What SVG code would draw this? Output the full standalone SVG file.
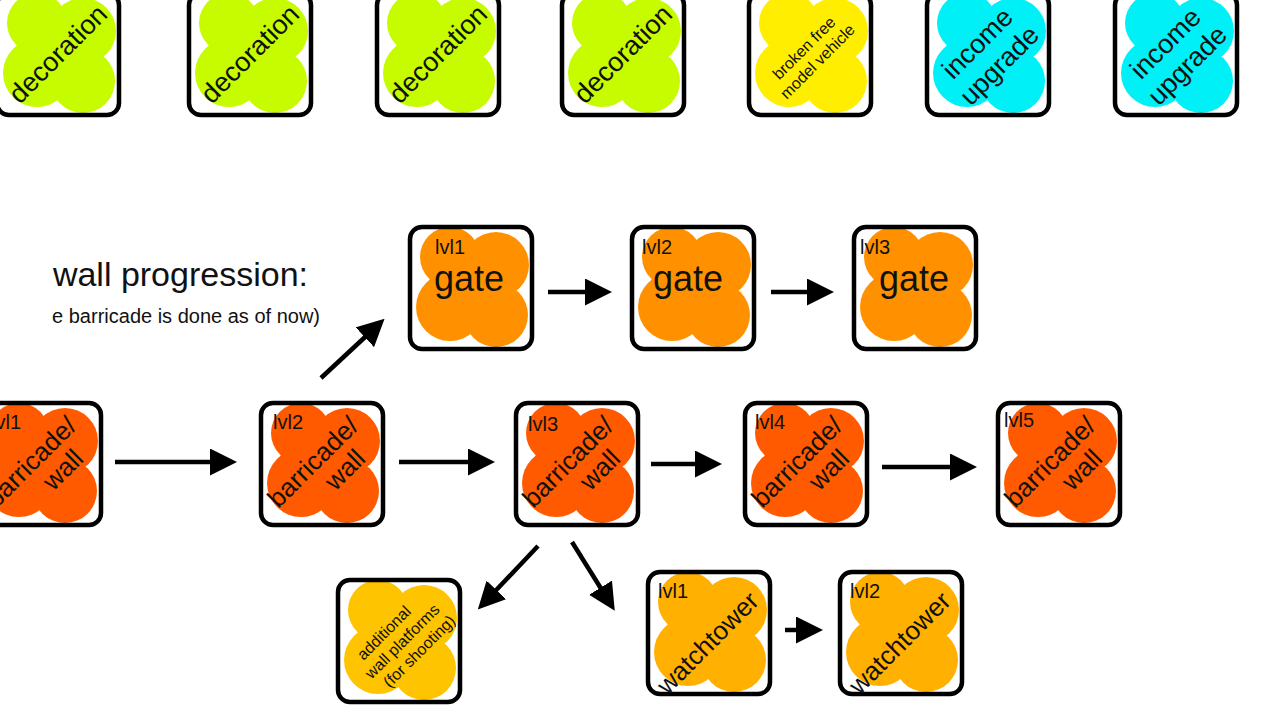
<svg xmlns="http://www.w3.org/2000/svg" width="1280" height="720" viewBox="0 0 1280 720">
<style>
.box{fill:none;stroke:#000;stroke-width:4.5}
.t{font-family:"Liberation Sans",Arial,sans-serif;fill:#111}
.lg{fill:#c6fb00}.yl{fill:#ffee00}.cy{fill:#00f0f8}.og{fill:#ff9100}.rd{fill:#ff5a00}.am{fill:#ffb000}.gd{fill:#ffc400}
.c line{stroke:#000;stroke-width:4.5}
</style>
<defs>
<clipPath id="cp" clipPathUnits="userSpaceOnUse"><rect x="2" y="2" width="122" height="122" rx="12"/></clipPath>
<g id="blob"><circle cx="42" cy="32" r="30"/><circle cx="88" cy="40" r="33"/><circle cx="42" cy="82" r="34"/><circle cx="88" cy="90" r="32"/><circle cx="63" cy="62" r="42"/></g>
<marker id="ah" markerWidth="6" markerHeight="6" refX="4" refY="3" orient="auto" markerUnits="strokeWidth"><path d="M0,0 L6,3 L0,6 z"/></marker>
</defs>
<rect width="1280" height="720" fill="#fff"/>
<g id="top">
<g id="d1" transform="translate(-5,-9)"><use href="#blob" class="lg" clip-path="url(#cp)"/><rect class="box" x="2" y="2" width="122" height="122" rx="12"/><text class="t" x="63" y="72" font-size="27" text-anchor="middle" transform="rotate(-45 63 63)">decoration</text></g>
<g id="d2" transform="translate(187,-9)"><use href="#blob" class="lg" clip-path="url(#cp)"/><rect class="box" x="2" y="2" width="122" height="122" rx="12"/><text class="t" x="63" y="72" font-size="27" text-anchor="middle" transform="rotate(-45 63 63)">decoration</text></g>
<g id="d3" transform="translate(375,-9)"><use href="#blob" class="lg" clip-path="url(#cp)"/><rect class="box" x="2" y="2" width="122" height="122" rx="12"/><text class="t" x="63" y="72" font-size="27" text-anchor="middle" transform="rotate(-45 63 63)">decoration</text></g>
<g id="d4" transform="translate(560,-9)"><use href="#blob" class="lg" clip-path="url(#cp)"/><rect class="box" x="2" y="2" width="122" height="122" rx="12"/><text class="t" x="63" y="72" font-size="27" text-anchor="middle" transform="rotate(-45 63 63)">decoration</text></g>
<g id="bfv" transform="translate(747,-9)"><use href="#blob" class="yl" clip-path="url(#cp)"/><rect class="box" x="2" y="2" width="122" height="122" rx="12"/><text class="t" font-size="16" text-anchor="middle" transform="rotate(-45 63 63)"><tspan x="63" y="60">broken free</tspan><tspan x="63" y="79">model vehicle</tspan></text></g>
<g id="inc1" transform="translate(925,-9)"><use href="#blob" class="cy" clip-path="url(#cp)"/><rect class="box" x="2" y="2" width="122" height="122" rx="12"/><text class="t" font-size="27" text-anchor="middle" transform="rotate(-45 63 63)"><tspan x="63" y="57">income</tspan><tspan x="63" y="88">upgrade</tspan></text></g>
<g id="inc2" transform="translate(1113,-9)"><use href="#blob" class="cy" clip-path="url(#cp)"/><rect class="box" x="2" y="2" width="122" height="122" rx="12"/><text class="t" font-size="27" text-anchor="middle" transform="rotate(-45 63 63)"><tspan x="63" y="57">income</tspan><tspan x="63" y="88">upgrade</tspan></text></g>
</g>
<g id="title">
<text class="t" x="308" y="286" font-size="34" text-anchor="end">wall progression:</text>
<text class="t" x="320" y="323" font-size="20" text-anchor="end">e barricade is done as of now)</text>
</g>
<g id="gates">
<g id="g1" transform="translate(408,225)"><use href="#blob" class="og" clip-path="url(#cp)"/><rect class="box" x="2" y="2" width="122" height="122" rx="12"/><text class="t" x="27" y="29" font-size="20">lvl1</text><text class="t" x="61" y="66" font-size="36" text-anchor="middle">gate</text></g>
<g id="g2" transform="translate(630,225)"><use href="#blob" class="og" clip-path="url(#cp)"/><rect class="box" x="2" y="2" width="122" height="122" rx="12"/><text class="t" x="12" y="29" font-size="20">lvl2</text><text class="t" x="58" y="66" font-size="36" text-anchor="middle">gate</text></g>
<g id="g3" transform="translate(852,225)"><use href="#blob" class="og" clip-path="url(#cp)"/><rect class="box" x="2" y="2" width="122" height="122" rx="12"/><text class="t" x="8" y="29" font-size="20">lvl3</text><text class="t" x="62" y="66" font-size="36" text-anchor="middle">gate</text></g>
</g>
<g id="walls">
<g id="w1" transform="translate(-23,401)"><use href="#blob" class="rd" clip-path="url(#cp)"/><rect class="box" x="2" y="2" width="122" height="122" rx="12"/><text class="t" x="14" y="28" font-size="20">lvl1</text><text class="t" font-size="26" text-anchor="middle" transform="rotate(-45 63 63)"><tspan x="58" y="64">barricade/</tspan><tspan x="75" y="92">wall</tspan></text></g>
<g id="w2" transform="translate(259,401)"><use href="#blob" class="rd" clip-path="url(#cp)"/><rect class="box" x="2" y="2" width="122" height="122" rx="12"/><text class="t" x="14" y="28" font-size="20">lvl2</text><text class="t" font-size="26" text-anchor="middle" transform="rotate(-45 63 63)"><tspan x="58" y="64">barricade/</tspan><tspan x="75" y="92">wall</tspan></text></g>
<g id="w3" transform="translate(514,401)"><use href="#blob" class="rd" clip-path="url(#cp)"/><rect class="box" x="2" y="2" width="122" height="122" rx="12"/><text class="t" x="14" y="30" font-size="20">lvl3</text><text class="t" font-size="26" text-anchor="middle" transform="rotate(-45 63 63)"><tspan x="58" y="64">barricade/</tspan><tspan x="75" y="92">wall</tspan></text></g>
<g id="w4" transform="translate(743,401)"><use href="#blob" class="rd" clip-path="url(#cp)"/><rect class="box" x="2" y="2" width="122" height="122" rx="12"/><text class="t" x="12" y="28" font-size="20">lvl4</text><text class="t" font-size="26" text-anchor="middle" transform="rotate(-45 63 63)"><tspan x="58" y="64">barricade/</tspan><tspan x="75" y="92">wall</tspan></text></g>
<g id="w5" transform="translate(996,401)"><use href="#blob" class="rd" clip-path="url(#cp)"/><rect class="box" x="2" y="2" width="122" height="122" rx="12"/><text class="t" x="8" y="26" font-size="20">lvl5</text><text class="t" font-size="26" text-anchor="middle" transform="rotate(-45 63 63)"><tspan x="58" y="64">barricade/</tspan><tspan x="75" y="92">wall</tspan></text></g>
</g>
<g id="bottom">
<g id="plat" transform="translate(336,578)"><use href="#blob" class="gd" clip-path="url(#cp)"/><rect class="box" x="2" y="2" width="122" height="122" rx="12"/><text class="t" font-size="16" text-anchor="middle" transform="rotate(-45 63 63)"><tspan x="58" y="52">additional</tspan><tspan x="65" y="71">wall platforms</tspan><tspan x="70" y="90">(for shooting)</tspan></text></g>
<g id="wt1" transform="translate(646,570)"><use href="#blob" class="am" clip-path="url(#cp)"/><rect class="box" x="2" y="2" width="122" height="122" rx="12"/><text class="t" x="12" y="28" font-size="20">lvl1</text><text class="t" x="60" y="80" font-size="26" text-anchor="middle" transform="rotate(-45 63 70)">watchtower</text></g>
<g id="wt2" transform="translate(838,570)"><use href="#blob" class="am" clip-path="url(#cp)"/><rect class="box" x="2" y="2" width="122" height="122" rx="12"/><text class="t" x="12" y="28" font-size="20">lvl2</text><text class="t" x="60" y="80" font-size="26" text-anchor="middle" transform="rotate(-45 63 70)">watchtower</text></g>
</g>
<g class="c" id="connectors">
<line x1="115" y1="462" x2="228" y2="462" marker-end="url(#ah)"/>
<line x1="399" y1="462" x2="486" y2="462" marker-end="url(#ah)"/>
<line x1="651" y1="464" x2="713" y2="464" marker-end="url(#ah)"/>
<line x1="882" y1="467" x2="968" y2="467" marker-end="url(#ah)"/>
<line x1="321" y1="378" x2="378" y2="325" marker-end="url(#ah)"/>
<line x1="548" y1="292" x2="603" y2="292" marker-end="url(#ah)"/>
<line x1="771" y1="292" x2="825" y2="292" marker-end="url(#ah)"/>
<line x1="538" y1="546" x2="484" y2="603" marker-end="url(#ah)"/>
<line x1="572" y1="542" x2="610" y2="603" marker-end="url(#ah)"/>
<line x1="785" y1="630" x2="814" y2="630" marker-end="url(#ah)"/>
</g>
</svg>
